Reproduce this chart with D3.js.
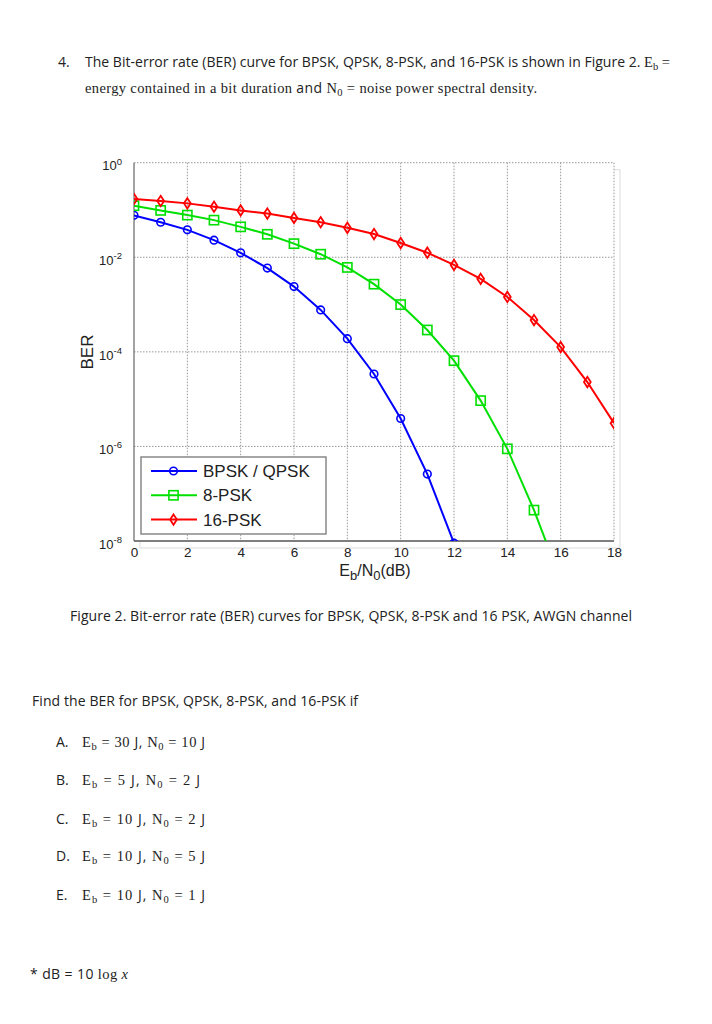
<!DOCTYPE html>
<html>
<head>
<meta charset="UTF-8">
<title>BER curves</title>
<style>
  body { margin: 0; background: #fff; }
  .sans { font-family: "Open Sans", "Noto Sans", sans-serif; fill: #222; }
  .serif { font-family: "Liberation Serif", "DejaVu Serif", serif; fill: #222; }
  .grid { stroke: #999; stroke-width: 1; stroke-dasharray: 1.5 1.5; fill: none; }
  .curve { fill: none; stroke-width: 2; }
  .marker { fill: none; }
</style>
</head>
<body>
<script src="https://d3js.org/d3.v7.min.js"></script>
<svg id="page" width="712" height="1024"></svg>
<script>
// ---- data ----
var snrDb = d3.range(0, 19);   // Eb/N0 in dB, 0..18
var berBpsk = [0.077, 0.055, 0.038, 0.023, 0.0124, 0.0059, 0.0024, 7.7e-4, 1.9e-4, 3.4e-5, 3.9e-6, 2.6e-7, 9e-9];
var ber8psk = [0.123, 0.098, 0.078, 0.061, 0.044, 0.0306, 0.0194, 0.0116, 0.0061, 0.0027, 0.0010, 2.9e-4, 6.5e-5, 9.3e-6, 8.9e-7, 4.5e-8, 1.5e-9];
var ber16psk = [0.171, 0.155, 0.138, 0.117, 0.098, 0.084, 0.068, 0.055, 0.042, 0.031, 0.020, 0.0125, 0.0069, 0.0035, 0.00145, 4.7e-4, 1.26e-4, 2.3e-5, 3.1e-6];
var seriesNames = ["BPSK / QPSK", "8-PSK", "16-PSK"];
var xTicks = [0, 2, 4, 6, 8, 10, 12, 14, 16, 18];
var yTickExps = [0, -2, -4, -6, -8];

var series = [
  { name: seriesNames[0], values: berBpsk, color: "#0000ff", marker: "circle" },
  { name: seriesNames[1], values: ber8psk, color: "#00e000", marker: "square" },
  { name: seriesNames[2], values: ber16psk, color: "#ff0000", marker: "diamond" }
];

var svg = d3.select("#page");
var chartFont = "Liberation Sans, Arial, sans-serif";

// ---- plot frame ----
var pL = 134, pR = 614, pT = 162.7, pB = 541;
var x = d3.scaleLinear().domain([0, 18]).range([pL, pR]);
var y = d3.scaleLog().domain([1e-8, 1]).range([pB, pT]);

// faint backdrop frame
svg.append("rect")
  .attr("x", pL + 6).attr("y", pT + 7)
  .attr("width", pR - pL).attr("height", pB - pT)
  .attr("fill", "none").attr("stroke", "#e2e2e2").attr("stroke-width", 1.2);

svg.append("rect")
  .attr("x", pL).attr("y", pT).attr("width", pR - pL).attr("height", pB - pT)
  .attr("fill", "#fff");

svg.append("defs").append("clipPath").attr("id", "plotclip")
  .append("rect").attr("x", pL).attr("y", pT).attr("width", pR - pL).attr("height", pB - pT);

// grid
var grid = svg.append("g");
grid.selectAll(".vx").data(xTicks.slice(1)).enter().append("line")
  .attr("class", "grid")
  .attr("x1", d => x(d)).attr("x2", d => x(d))
  .attr("y1", pT).attr("y2", pB);
grid.selectAll(".hy").data(yTickExps.slice(0, -1)).enter().append("line")
  .attr("class", "grid")
  .attr("x1", pL).attr("x2", pR)
  .attr("y1", d => y(Math.pow(10, d))).attr("y2", d => y(Math.pow(10, d)));

// axes
var xAxis = svg.append("g")
  .attr("transform", "translate(0," + pB + ")")
  .call(d3.axisBottom(x).tickValues(xTicks).tickSize(0).tickPadding(6).tickFormat(d3.format("d")));
xAxis.select(".domain").remove();
xAxis.selectAll("text").style("font-family", chartFont).style("font-size", "13.5px").style("fill", "#222");

var yAxis = svg.append("g")
  .attr("transform", "translate(" + pL + ",0)")
  .call(d3.axisLeft(y).tickValues(yTickExps.map(e => Math.pow(10, e))).tickSize(0).tickPadding(12));
yAxis.select(".domain").remove();
yAxis.selectAll(".tick text").each(function (d) {
  var t = d3.select(this).text("").attr("dy", "0.55em")
    .style("font-family", chartFont).style("font-size", "13px").style("fill", "#222");
  t.append("tspan").text("10");
  t.append("tspan").attr("dy", "-0.6em").style("font-size", "9.5px").text(Math.round(Math.log10(d)));
});

svg.append("line").attr("x1", pL).attr("x2", pL).attr("y1", pT).attr("y2", pB)
  .attr("stroke", "#666").attr("stroke-width", 1.2);
svg.append("line").attr("x1", pL).attr("x2", pR).attr("y1", pB).attr("y2", pB)
  .attr("stroke", "#555").attr("stroke-width", 1.4);

// axis titles
svg.append("text")
  .attr("transform", "translate(93,352) rotate(-90)")
  .attr("text-anchor", "middle")
  .style("font-family", chartFont).style("font-size", "17px").style("fill", "#222")
  .text("BER");

var xt = svg.append("text").attr("x", 375).attr("y", 576).attr("text-anchor", "middle")
  .style("font-family", chartFont).style("font-size", "16px").style("fill", "#222");
xt.append("tspan").text("E");
xt.append("tspan").attr("dy", 4).style("font-size", "13px").text("b");
xt.append("tspan").attr("dy", -4).text("/N");
xt.append("tspan").attr("dy", 4).style("font-size", "13px").text("0");
xt.append("tspan").attr("dy", -4).text("(dB)");

// ---- curves ----
function drawMarker(g, kind, color) {
  if (kind === "circle") {
    g.append("circle").attr("class", "marker").attr("r", 3.8).attr("stroke", color).attr("stroke-width", 1.6);
  } else if (kind === "square") {
    g.append("rect").attr("class", "marker").attr("x", -4.6).attr("y", -4.6).attr("width", 9.2).attr("height", 9.2)
      .attr("stroke", color).attr("stroke-width", 1.6);
  } else {
    g.append("path").attr("class", "marker").attr("d", "M0,-5.2L3.4,0L0,5.2L-3.4,0Z")
      .attr("stroke", color).attr("stroke-width", 1.8);
  }
}

var plot = svg.append("g").attr("clip-path", "url(#plotclip)");
var line = d3.line().x((d, i) => x(snrDb[i])).y(d => y(d));

series.forEach(function (s) {
  plot.append("path").attr("class", "curve").attr("stroke", s.color).attr("d", line(s.values));
  plot.selectAll(null).data(s.values).enter().append("g")
    .attr("transform", (d, i) => "translate(" + x(snrDb[i]) + "," + y(d) + ")")
    .each(function () { drawMarker(d3.select(this), s.marker, s.color); });
});

// ---- legend ----
var lg = svg.append("g");
lg.append("rect").attr("x", 141).attr("y", 457).attr("width", 185).attr("height", 77)
  .attr("fill", "#fff").attr("stroke", "#808080").attr("stroke-width", 1.4);
series.forEach(function (s, i) {
  var ly = 471 + i * 24.3;
  lg.append("line").attr("x1", 151).attr("x2", 197).attr("y1", ly).attr("y2", ly)
    .attr("stroke", s.color).attr("stroke-width", 2);
  drawMarker(lg.append("g").attr("transform", "translate(173.5," + ly + ")"), s.marker, s.color);
  lg.append("text").attr("x", 203).attr("y", ly + 6)
    .style("font-family", chartFont).style("font-size", "17px").style("fill", "#222")
    .text(s.name);
});

// ---- surrounding document text ----
function richText(xPos, yPos, parts, len) {
  var t = svg.append("text").attr("x", xPos).attr("y", yPos).style("font-size", "14px");
  parts.forEach(function (p) {
    var sp = t.append("tspan").attr("class", p[1] === "r" ? "serif" : "sans").text(p[0]);
    if (p[1] === "r") sp.style("font-size", "14.5px");
    if (p[2]) { sp.attr("dy", 3).style("font-size", "10.5px"); }
    if (p[3]) { sp.attr("dy", -3); }
  });
  if (len) t.attr("textLength", len).attr("lengthAdjust", "spacing");
  return t;
}

svg.append("text").attr("class", "sans").attr("x", 58).attr("y", 67).style("font-size", "14px").text("4.");
richText(85, 67, [["The Bit-error rate (BER) curve for BPSK, QPSK, 8-PSK, and 16-PSK is shown in Figure 2.  ", "s"],
  ["E", "r"], ["b", "r", true], [" =", "r", false, true]], 585);
richText(85, 93, [["energy contained in a bit duration  ", "r"], ["and  ", "s"], ["N", "r"], ["0", "r", true],
  [" = noise power spectral density.", "r", false, true]], 452);

svg.append("text").attr("class", "sans").attr("x", 70).attr("y", 621).style("font-size", "14px")
  .attr("textLength", 562).attr("lengthAdjust", "spacing")
  .text("Figure 2. Bit-error rate (BER) curves for BPSK, QPSK, 8-PSK and 16 PSK, AWGN channel");

svg.append("text").attr("class", "sans").attr("x", 32).attr("y", 706).style("font-size", "14px")
  .attr("textLength", 326).attr("lengthAdjust", "spacing")
  .text("Find the BER for BPSK, QPSK, 8-PSK, and 16-PSK if");

var questions = [
  ["A.", "30", "10", 747, 123],
  ["B.", "5 ", "2 ", 785, 118],
  ["C.", "10 ", "2 ", 824, 123],
  ["D.", "10 ", "5 ", 861, 123],
  ["E.", "10 ", "1 ", 900, 123]
];
questions.forEach(function (q) {
  svg.append("text").attr("class", "sans").attr("x", 56).attr("y", q[3]).style("font-size", "14px").text(q[0]);
  richText(82, q[3], [["E", "r"], ["b", "r", true], [" = " + q[1], "r", false, true], [" J,  ", "s"],
    ["N", "r"], ["0", "r", true], [" = " + q[2], "r", false, true], [" J", "s"]], q[4]);
});

richText(30, 979, [["* dB = 10  ", "s"], ["log ", "r"], ["x", "r"]], 98)
  .select("tspan:last-child").style("font-style", "italic");
</script>
</body>
</html>
